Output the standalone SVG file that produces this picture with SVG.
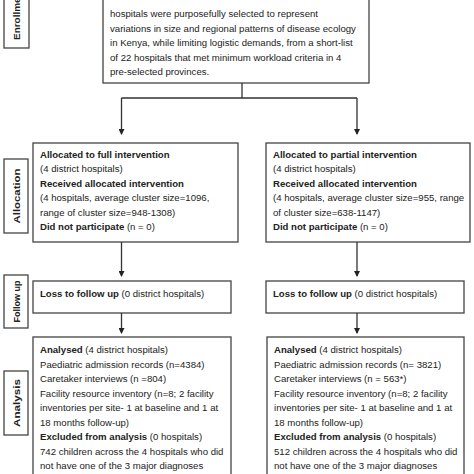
<svg xmlns="http://www.w3.org/2000/svg" width="474" height="474" viewBox="0 0 474 474">
<defs>
<marker id="ah" markerWidth="6" markerHeight="6" refX="5" refY="3" orient="auto" markerUnits="userSpaceOnUse">
<path d="M0,0 L6,3 L0,6 Z" fill="#222"/>
</marker>
<style>
.box{fill:#fff;stroke:#444;stroke-width:1.3}
.t{font-family:"Liberation Sans",Arial,sans-serif;font-size:9.6px;fill:#222}
.b{font-weight:bold}
.lbl{font-family:"Liberation Sans",Arial,sans-serif;font-size:9.5px;font-weight:bold;fill:#222;text-anchor:middle}
.c{fill:none;stroke:#333;stroke-width:1.3}
</style>
</defs>
<rect width="474" height="474" fill="#fff"/>

<g id="label-enrollment">
<rect class="box" x="4" y="-10" width="25" height="58"/>
<text class="lbl" style="text-anchor:start" transform="translate(20,40) rotate(-90)" textLength="52" lengthAdjust="spacingAndGlyphs">Enrollment</text>
</g>
<g id="label-allocation">
<rect class="box" x="4" y="159" width="24" height="74"/>
<text class="lbl" transform="translate(19.5,196) rotate(-90)" textLength="55" lengthAdjust="spacingAndGlyphs">Allocation</text>
</g>
<g id="label-followup">
<rect class="box" x="4" y="275" width="24" height="53"/>
<text class="lbl" transform="translate(19.5,301.5) rotate(-90)" textLength="42" lengthAdjust="spacingAndGlyphs">Follow up</text>
</g>
<g id="label-analysis">
<rect class="box" x="4" y="371" width="24" height="64"/>
<text class="lbl" transform="translate(19.5,403) rotate(-90)" textLength="48" lengthAdjust="spacingAndGlyphs">Analysis</text>
</g>

<g id="enrollment">
<rect class="box" x="103" y="-10" width="266" height="93"/>
<text class="t" x="110" y="17">hospitals were purposefully selected to represent</text>
<text class="t" x="110" y="31.5">variations in size and regional patterns of disease ecology</text>
<text class="t" x="110" y="46">in Kenya, while limiting logistic demands, from a short-list</text>
<text class="t" x="110" y="60.5">of 22 hospitals that met minimum workload criteria in 4</text>
<text class="t" x="110" y="75">pre-selected provinces.</text>
</g>

<g id="alloc-full">
<rect class="box" x="33" y="143" width="205" height="99"/>
<text class="t" x="40" y="157.5"><tspan class="b">Allocated to full intervention</tspan></text>
<text class="t" x="40" y="172">(4 district hospitals)</text>
<text class="t" x="40" y="186.5"><tspan class="b">Received allocated intervention</tspan></text>
<text class="t" x="40" y="201">(4 hospitals, average cluster size=1096,</text>
<text class="t" x="40" y="215.5">range of cluster size=948-1308)</text>
<text class="t" x="40" y="230"><tspan class="b">Did not participate</tspan> (n = 0)</text>
</g>

<g id="alloc-partial">
<rect class="box" x="266" y="143" width="204" height="99"/>
<text class="t" x="273" y="157.5"><tspan class="b">Allocated to partial intervention</tspan></text>
<text class="t" x="273" y="172">(4 district hospitals)</text>
<text class="t" x="273" y="186.5"><tspan class="b">Received allocated intervention</tspan></text>
<text class="t" x="273" y="201">(4 hospitals, average cluster size=955, range</text>
<text class="t" x="273" y="215.5">of cluster size=638-1147)</text>
<text class="t" x="273" y="230"><tspan class="b">Did not participate</tspan> (n = 0)</text>
</g>

<g id="follow-full">
<rect class="box" x="33" y="281" width="198" height="32"/>
<text class="t" x="40" y="296.5"><tspan class="b">Loss to follow up</tspan> (0 district hospitals)</text>
</g>

<g id="follow-partial">
<rect class="box" x="266" y="281" width="198" height="32"/>
<text class="t" x="273" y="296.5"><tspan class="b">Loss to follow up</tspan> (0 district hospitals)</text>
</g>

<g id="analysis-full">
<rect class="box" x="33" y="337" width="198" height="150"/>
<text class="t" x="40" y="353"><tspan class="b">Analysed</tspan> (4 district hospitals)</text>
<text class="t" x="40" y="367.5">Paediatric admission records (n=4384)</text>
<text class="t" x="40" y="382">Caretaker interviews (n =804)</text>
<text class="t" x="40" y="396.5">Facility resource inventory (n=8; 2 facility</text>
<text class="t" x="40" y="411">inventories per site- 1 at baseline and 1 at</text>
<text class="t" x="40" y="425.5">18 months follow-up)</text>
<text class="t" x="40" y="440"><tspan class="b">Excluded from analysis</tspan> (0 hospitals)</text>
<text class="t" x="40" y="454.5">742 children across the 4 hospitals who did</text>
<text class="t" x="40" y="469">not have one of the 3 major diagnoses</text>
</g>

<g id="analysis-partial">
<rect class="box" x="267" y="337" width="197" height="150"/>
<text class="t" x="274" y="353"><tspan class="b">Analysed</tspan> (4 district hospitals)</text>
<text class="t" x="274" y="367.5">Paediatric admission records (n= 3821)</text>
<text class="t" x="274" y="382">Caretaker interviews (n = 563*)</text>
<text class="t" x="274" y="396.5">Facility resource inventory (n=8; 2 facility</text>
<text class="t" x="274" y="411">inventories per site- 1 at baseline and 1 at</text>
<text class="t" x="274" y="425.5">18 months follow-up)</text>
<text class="t" x="274" y="440"><tspan class="b">Excluded from analysis</tspan> (0 hospitals)</text>
<text class="t" x="274" y="454.5">512 children across the 4 hospitals who did</text>
<text class="t" x="274" y="469">not have one of the 3 major diagnoses</text>
</g>

<g id="connectors">
<path class="c" d="M242,83 V98 M121.5,98 H357"/>
<path class="c" d="M121.5,98 V134" marker-end="url(#ah)"/>
<path class="c" d="M357,98 V134" marker-end="url(#ah)"/>
<path class="c" d="M121.5,242 V276" marker-end="url(#ah)"/>
<path class="c" d="M357,242 V276" marker-end="url(#ah)"/>
<path class="c" d="M121.5,313 V333" marker-end="url(#ah)"/>
<path class="c" d="M357,313 V333" marker-end="url(#ah)"/>
</g>
</svg>
